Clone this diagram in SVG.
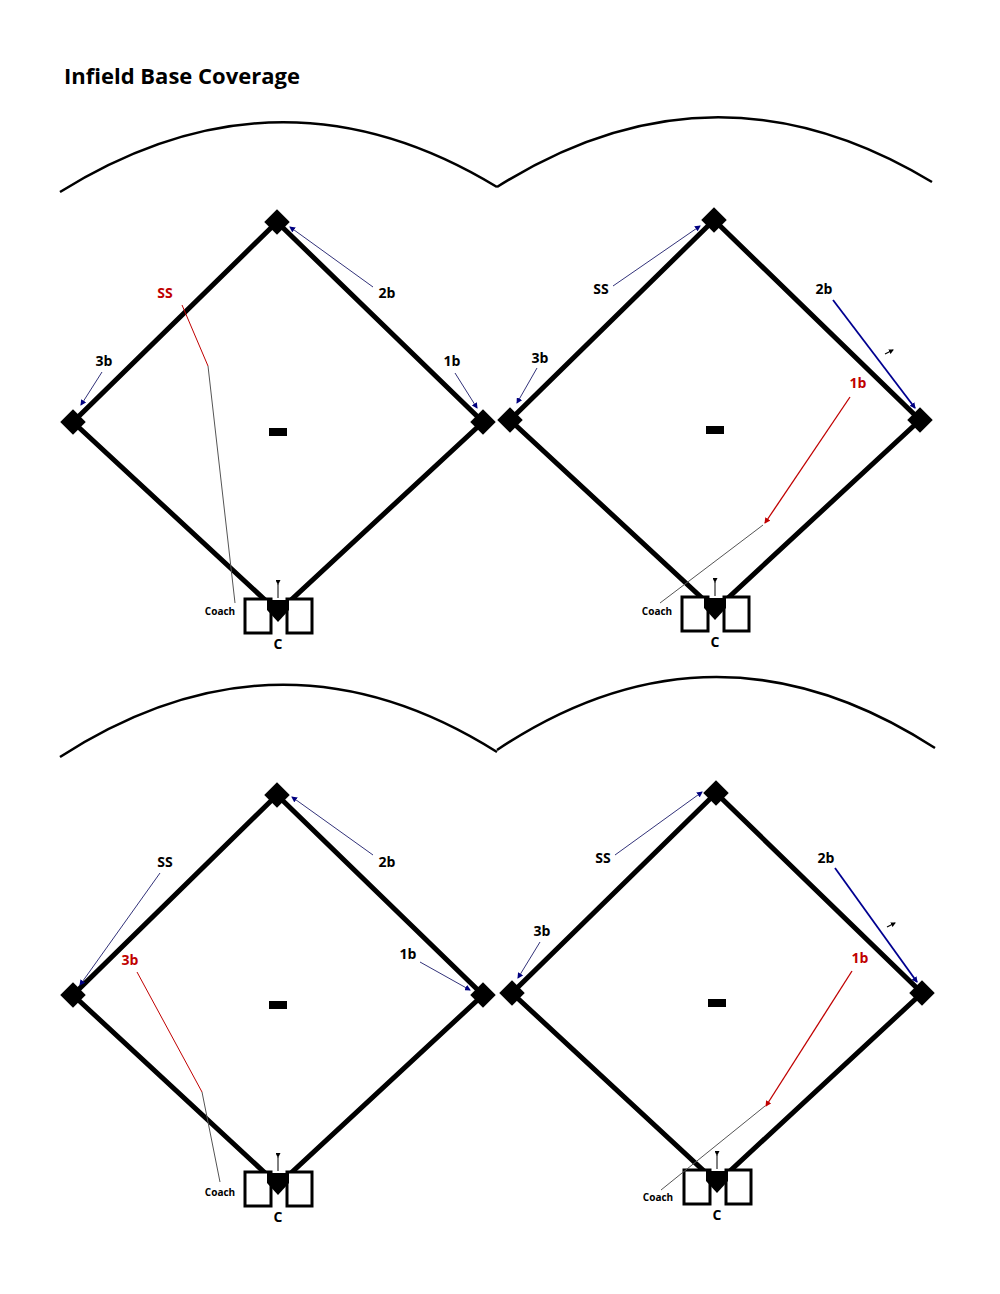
<svg xmlns="http://www.w3.org/2000/svg" width="1000" height="1294" viewBox="0 0 1000 1294">
<defs>
<style>
.ln{stroke:#000;stroke-width:5;fill:none}
.arc{stroke:#000;stroke-width:2.5;fill:none}
.box{stroke:#000;stroke-width:3;fill:#fff}
.t{font-family:"Open Sans","Liberation Sans",sans-serif;font-weight:bold;font-size:14px;text-anchor:middle}
.r{fill:#c00000}
.sm{font-family:"Open Sans","Liberation Sans",sans-serif;font-weight:bold;font-size:10px;text-anchor:middle}
.bl{stroke:#33337a;stroke-width:1;fill:none;marker-end:url(#ab)}
.bk{stroke:#000090;stroke-width:1.8;fill:none;marker-end:url(#ab)}
.rd{stroke:#c00000;stroke-width:1.3;fill:none;marker-end:url(#ar)}
.rdn{stroke:#c00000;stroke-width:1;fill:none}
.gr{stroke:#555;stroke-width:1;fill:none}
</style>
<marker id="ab" markerUnits="userSpaceOnUse" markerWidth="6" markerHeight="6" refX="5" refY="3" orient="auto"><path d="M0,0L6,3L0,6z" fill="#000080"/></marker>
<marker id="ar" markerUnits="userSpaceOnUse" markerWidth="6" markerHeight="6" refX="5" refY="3" orient="auto"><path d="M0,0L6,3L0,6z" fill="#c00000"/></marker>
<marker id="ak" markerUnits="userSpaceOnUse" markerWidth="5" markerHeight="5" refX="4" refY="2.5" orient="auto"><path d="M0,0L5,2.5L0,5z" fill="#000"/></marker>
<g id="field">
<path class="ln" d="M0,0L-204,200L1,390L206,200Z"/>
<rect x="-9" y="-9" width="18" height="18" transform="rotate(45)" fill="#000"/>
<rect x="-9" y="-9" width="18" height="18" transform="translate(-204,200) rotate(45)" fill="#000"/>
<rect x="-9" y="-9" width="18" height="18" transform="translate(206,200) rotate(45)" fill="#000"/>
<rect x="-8" y="206" width="18" height="8" fill="#000"/>
<rect class="box" x="-32" y="377" width="26" height="34"/>
<rect class="box" x="10" y="377" width="25" height="34"/>
<path d="M-10,378L12,378L12,388L1,400L-10,388Z" fill="#000"/>
<line x1="1" y1="362" x2="1" y2="376" stroke="#000" stroke-width="1" marker-start="url(#ak)"/>
<text class="t" x="1" y="427">C</text>
</g>
</defs>
<text x="64" y="84" font-family="'Open Sans','Liberation Sans',sans-serif" font-weight="bold" font-size="22">Infield Base Coverage</text>
<g id="arcs">
<path class="arc" d="M60,192Q280,55 497,187"/>
<path class="arc" d="M497,187Q714,50 932,182"/>
<path class="arc" d="M60,757Q280,615 497,752"/>
<path class="arc" d="M497,750Q714,605 935,748"/>
</g>
<use id="diagram-tl" href="#field" x="277" y="222"/>
<use id="diagram-tr" href="#field" x="714" y="220"/>
<use id="diagram-bl" href="#field" x="277" y="795"/>
<use id="diagram-br" href="#field" x="716" y="793"/>
<g id="connectors">
<path class="rdn" d="M182,305L208,366"/><path class="gr" d="M208,366L235,603"/>
<path class="bl" d="M373,287L290,227"/>
<path class="bl" d="M102,372L81,405"/>
<path class="bl" d="M455,373L477,408"/>
<path class="bl" d="M613,286L700,226"/>
<path class="bk" d="M833,300L915,408"/>
<path class="rd" d="M850,397L765,523"/>
<path class="gr" d="M660,603L763,525"/>
<path class="bl" d="M537,368L517,403"/>
<path d="M885,354L893,350" stroke="#000" stroke-width="1.2" marker-end="url(#ak)"/>
<path class="bl" d="M160,873L80,985"/>
<path class="bl" d="M373,855L292,797"/>
<path class="rdn" d="M137,972L202,1092"/><path class="gr" d="M202,1092L220,1182"/>
<path class="bl" d="M420,962L470,990"/>
<path class="bl" d="M615,855L702,792"/>
<path class="bk" d="M835,868L917,982"/>
<path class="rd" d="M852,971L766,1106"/>
<path class="gr" d="M661,1190L765,1106"/>
<path class="bl" d="M540,942L518,978"/>
<path d="M887,927L895,923" stroke="#000" stroke-width="1.2" marker-end="url(#ak)"/>
</g>
<g id="labels">
<text class="t r" x="165" y="298">SS</text>
<text class="t" x="387" y="298">2b</text>
<text class="t" x="104" y="366">3b</text>
<text class="t" x="452" y="366">1b</text>
<text class="sm" x="220" y="615">Coach</text>
<text class="t" x="601" y="294">SS</text>
<text class="t" x="824" y="294">2b</text>
<text class="t r" x="858" y="388">1b</text>
<text class="t" x="540" y="363">3b</text>
<text class="sm" x="657" y="615">Coach</text>
<text class="t" x="165" y="867">SS</text>
<text class="t" x="387" y="867">2b</text>
<text class="t r" x="130" y="965">3b</text>
<text class="t" x="408" y="959">1b</text>
<text class="sm" x="220" y="1196">Coach</text>
<text class="t" x="603" y="863">SS</text>
<text class="t" x="826" y="863">2b</text>
<text class="t r" x="860" y="963">1b</text>
<text class="t" x="542" y="936">3b</text>
<text class="sm" x="658" y="1201">Coach</text>
</g>
</svg>
